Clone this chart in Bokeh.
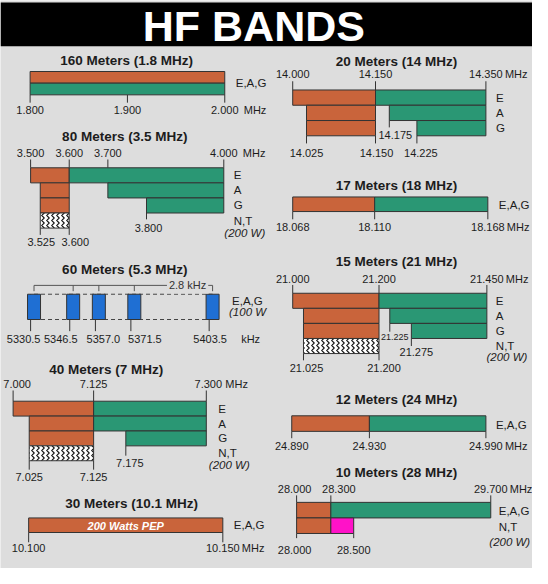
from bokeh.plotting import figure
from bokeh.models import Range1d
from bokeh.embed import file_html
from bokeh.resources import INLINE
from bokeh.core.properties import value

# ------------------------------------------------------------------ data
HEADER = "HF BANDS"

B160_TITLE = "160 Meters (1.8 MHz)"
B160_START = [1.800, 1.800]
B160_END = [2.000, 2.000]
B160_ROW = [0, 1]
B160_KIND = ["cw", "phone"]
B160_TOP = []
B160_BOTTOM = [1.800, 1.900, 2.000]
B160_INNER = []
B160_CLASSES = ["E,A,G"]
B160_NOTE = ""

B80_TITLE = "80 Meters (3.5 MHz)"
B80_START = [3.500, 3.600, 3.525, 3.700, 3.525, 3.800, 3.525]
B80_END = [3.600, 4.000, 3.600, 4.000, 3.600, 4.000, 3.600]
B80_ROW = [0, 0, 1, 1, 2, 2, 3]
B80_KIND = ["cw", "phone", "cw", "phone", "cw", "phone", "nt"]
B80_TOP = [3.500, 3.600, 3.700, 4.000]
B80_BOTTOM = [3.525, 3.600]
B80_INNER = [3.800]
B80_CLASSES = ["E", "A", "G", "N,T"]
B80_NOTE = "(200 W)"

B60_TITLE = "60 Meters (5.3 MHz)"
B60_CHANNELS = [5330.5, 5346.5, 5357.0, 5371.5, 5403.5]
B60_CH_WIDTH = 2.8
B60_WIDTH_LABEL = "2.8 kHz"
B60_CLASSES = ["E,A,G"]
B60_NOTE = "(100 W"

B40_TITLE = "40 Meters (7 MHz)"
B40_START = [7.000, 7.125, 7.025, 7.125, 7.025, 7.175, 7.025]
B40_END = [7.125, 7.300, 7.125, 7.300, 7.125, 7.300, 7.125]
B40_ROW = [0, 0, 1, 1, 2, 2, 3]
B40_KIND = ["cw", "phone", "cw", "phone", "cw", "phone", "nt"]
B40_TOP = [7.000, 7.125, 7.300]
B40_BOTTOM = [7.025, 7.125]
B40_INNER = [7.175]
B40_CLASSES = ["E", "A", "G", "N,T"]
B40_NOTE = "(200 W)"

B30_TITLE = "30 Meters (10.1 MHz)"
B30_START = [10.100]
B30_END = [10.150]
B30_ROW = [0]
B30_KIND = ["cw"]
B30_TOP = []
B30_BOTTOM = [10.100, 10.150]
B30_INNER = []
B30_CLASSES = ["E,A,G"]
B30_NOTE = ""
B30_POWER = "200 Watts PEP"

B20_TITLE = "20 Meters (14 MHz)"
B20_START = [14.000, 14.150, 14.025, 14.175, 14.025, 14.225]
B20_END = [14.150, 14.350, 14.150, 14.350, 14.150, 14.350]
B20_ROW = [0, 0, 1, 1, 2, 2]
B20_KIND = ["cw", "phone", "cw", "phone", "cw", "phone"]
B20_TOP = [14.000, 14.150, 14.350]
B20_BOTTOM = [14.025, 14.150, 14.225]
B20_INNER = [14.175]
B20_CLASSES = ["E", "A", "G"]
B20_NOTE = ""

B17_TITLE = "17 Meters (18 MHz)"
B17_START = [18.068, 18.110]
B17_END = [18.110, 18.168]
B17_ROW = [0, 0]
B17_KIND = ["cw", "phone"]
B17_TOP = []
B17_BOTTOM = [18.068, 18.110, 18.168]
B17_INNER = []
B17_CLASSES = ["E,A,G"]
B17_NOTE = ""

B15_TITLE = "15 Meters (21 MHz)"
B15_START = [21.000, 21.200, 21.025, 21.225, 21.025, 21.275, 21.025]
B15_END = [21.200, 21.450, 21.200, 21.450, 21.200, 21.450, 21.200]
B15_ROW = [0, 0, 1, 1, 2, 2, 3]
B15_KIND = ["cw", "phone", "cw", "phone", "cw", "phone", "nt"]
B15_TOP = [21.000, 21.200, 21.450]
B15_BOTTOM = [21.025, 21.200]
B15_INNER = [21.225, 21.275]
B15_CLASSES = ["E", "A", "G", "N,T"]
B15_NOTE = "(200 W)"

B12_TITLE = "12 Meters (24 MHz)"
B12_START = [24.890, 24.930]
B12_END = [24.930, 24.990]
B12_ROW = [0, 0]
B12_KIND = ["cw", "phone"]
B12_TOP = []
B12_BOTTOM = [24.890, 24.930, 24.990]
B12_INNER = []
B12_CLASSES = ["E,A,G"]
B12_NOTE = ""

B10_TITLE = "10 Meters (28 MHz)"
B10_START = [28.000, 28.300, 28.000, 28.300]
B10_END = [28.300, 29.700, 28.300, 28.500]
B10_ROW = [0, 0, 1, 1]
B10_KIND = ["cw", "phone", "cw", "ntphone"]
B10_TOP = [28.000, 28.300, 29.700]
B10_BOTTOM = [28.000, 28.500]
B10_INNER = []
B10_CLASSES = ["E,A,G", "N,T"]
B10_NOTE = "(200 W)"

# ------------------------------------------------------------------ style / layout
FONT = "Liberation Sans"
BG = "#dddddd"
INK = "#1c1c1c"
EDGE = "#333333"
COLORS = {"cw": "#c9643b", "phone": "#2a9774", "ntphone": "#ff12c8"}
BLUE = "#1f6fd3"
W_REF, H_REF = 548, 584
LAB_FS = "11px"
TITLE_FS = "13.5px"

# px: pixel positions of band low / high edge; top, h: first row top and row height
LAYOUT = {
    "160": dict(px=(30.5, 231), top=73, h=12, title=(130, 62), top_lab=None, top_tick=None,
                bot_lab=3.33, bot_tick=2.67, class_rows=[1.0], class_dx=11, note_row=None, inner=[]),
    "80": dict(px=(31, 230), top=172, h=15.5, title=(128, 140), top_lab=-0.97, top_tick=-0.55,
               bot_lab=4.9, bot_tick=4.45, class_rows=[0.5, 1.5, 2.5, 3.5], class_dx=10, note_row=4.35,
               inner=[(4.0, 2, 3.42, LAB_FS)], bot_dx=[1, 6]),
    "40": dict(px=(13, 212), top=412, h=15.3, title=(109, 379), top_lab=-1.18, top_tick=-0.72,
               bot_lab=5.1, bot_tick=4.6, class_rows=[0.5, 1.5, 2.5, 3.5], class_dx=12, note_row=4.3,
               inner=[(4.18, 4, 3.66, LAB_FS)], top_dx=[4, 0, 2]),
    "30": dict(px=(29, 229), top=532, h=15, title=(135, 517), top_lab=None, top_tick=None,
               bot_lab=2.07, bot_tick=1.67, class_rows=[0.5], class_dx=11, note_row=None, inner=[]),
    "20": dict(px=(301, 500), top=92, h=15.7, title=(408, 63), top_lab=-1.02, top_tick=-0.57,
               bot_lab=4.1, bot_tick=3.5, class_rows=[0.5, 1.5, 2.5], class_dx=10, note_row=None,
               inner=[(2.93, 6, 2.45, LAB_FS)], bot_dx=[0, 1, 4]),
    "17": dict(px=(301, 502), top=202, h=15, title=(408, 190), top_lab=None, top_tick=None,
               bot_lab=2.07, bot_tick=1.53, class_rows=[0.53], class_dx=11, note_row=None, inner=[]),
    "15": dict(px=(301, 501), top=301, h=15.5, title=(408, 268), top_lab=-0.97, top_tick=-0.55,
               bot_lab=4.97, bot_tick=4.45, class_rows=[0.5, 1.5, 2.5, 3.5], class_dx=9, note_row=4.2,
               inner=[(2.9, 5, 2.55, "9px"), (3.9, 5, 3.5, LAB_FS)], bot_dx=[3, 5]),
    "12": dict(px=(300, 500), top=427, h=16, title=(408, 410), top_lab=None, top_tick=None,
               bot_lab=1.94, bot_tick=1.44, class_rows=[0.6], class_dx=10, note_row=None, inner=[]),
    "10": dict(px=(305, 505), top=516, h=16, title=(408, 485), top_lab=-0.875, top_tick=-0.45,
               bot_lab=3.06, bot_tick=2.3, class_rows=[0.56, 1.6], class_dx=8, note_row=2.56, inner=[],
               top_dx=[-2, 8, 0], bot_dx=[-2, 0]),
}
L60 = dict(px=(31, 222), top=302, h=26, title=(128, 277), lab_dx=[-7, -9, 8, 14, 1])

p = figure(width=532, height=568, x_range=Range1d(0, W_REF), y_range=Range1d(H_REF, 0),
           output_backend="svg", toolbar_location=None, min_border=0,
           x_axis_type=None, y_axis_type=None,
           background_fill_color=BG, border_fill_color=BG, outline_line_color=None)
p.grid.visible = False

XR, YR = {}, {}


def txt(x, y, text, size=LAB_FS, align="center", style="normal", color=INK, **kw):
    return p.text(x=x, y=y, text=text, text_font=value(FONT), text_font_size=size,
                  text_align=align, text_baseline="middle", text_font_style=style,
                  text_color=color, **kw)


def set_ranges(key, f0, f1, L):
    px0, px1 = L["px"]
    s = (f1 - f0) / (px1 - px0)
    XR[key] = Range1d(start=f0 - px0 * s, end=f0 + (W_REF - px0) * s)
    YR[key] = Range1d(start=(H_REF - L["top"]) / L["h"], end=-L["top"] / L["h"])
    return dict(x_range_name=key, y_range_name=key)


def draw_band(key, title, start, end, rows, kinds, top, bottom, inner, classes, note):
    L = LAYOUT[key]
    f0, f1 = min(start), max(end)
    kw = set_ranges(key, f0, f1, L)
    txt([L["title"][0]], [L["title"][1]], [title], size=TITLE_FS, style="bold")

    def cover_bottom(f):
        return max(r + 1 for a, b, r in zip(start, end, rows) if a - 1e-9 <= f <= b + 1e-9)

    # tick lines
    if top:
        p.segment(x0=top, x1=top, y0=[L["top_tick"]] * len(top), y1=[0] * len(top),
                  line_color=EDGE, line_width=1, **kw)
    if bottom:
        p.segment(x0=bottom, x1=bottom, y0=[cover_bottom(f) for f in bottom],
                  y1=[L["bot_tick"]] * len(bottom), line_color=EDGE, line_width=1, **kw)
    for f, (lr, dx, te, fs) in zip(inner, L["inner"]):
        p.segment(x0=[f], x1=[f], y0=[cover_bottom(f)], y1=[te], line_color=EDGE, line_width=1, **kw)

    # bars
    solid = [i for i, k in enumerate(kinds) if k != "nt"]
    p.quad(left=[start[i] for i in solid], right=[end[i] for i in solid],
           top=[rows[i] for i in solid], bottom=[rows[i] + 1 for i in solid],
           fill_color=[COLORS[kinds[i]] for i in solid], line_color=EDGE, line_width=1, **kw)
    wave = [i for i, k in enumerate(kinds) if k == "nt"]
    if wave:
        p.quad(left=[start[i] for i in wave], right=[end[i] for i in wave],
               top=[rows[i] for i in wave], bottom=[rows[i] + 1 for i in wave],
               fill_color="white", hatch_pattern="vertical_wave", hatch_color="#111111",
               hatch_scale=5, hatch_weight=1.1, line_color=EDGE, line_width=1, **kw)

    # frequency labels
    if top:
        txt(top, [L["top_lab"]] * len(top), [f"{f:.3f}" for f in top],
            x_offset=L.get("top_dx", [0] * len(top)), **kw)
    if bottom:
        txt(bottom, [L["bot_lab"]] * len(bottom), [f"{f:.3f}" for f in bottom],
            x_offset=L.get("bot_dx", [0] * len(bottom)), **kw)
    for f, (lr, dx, te, fs) in zip(inner, L["inner"]):
        txt([f], [lr], [f"{f:.3f}"], size=fs, x_offset=dx, **kw)
    unit_row = L["top_lab"] if f1 in top else L["bot_lab"]
    txt([f1], [unit_row], ["MHz"], align="left", x_offset=19, **kw)

    # licence classes
    txt([f1] * len(classes), L["class_rows"], classes, size="11.5px", align="left",
        x_offset=L["class_dx"], **kw)
    if note:
        txt([f1], [L["note_row"]], [note], size="11.5px", style="italic",
            x_offset=L["class_dx"] + 11, **kw)
    return kw


# header
p.quad(left=[0], right=[W_REF], top=[2], bottom=[47], fill_color="#000000", line_color=None)
p.text(x=[261], y=[26], text=[HEADER], text_font=value(FONT), text_font_size="43px",
       text_font_style="bold", text_color="white", text_align="center", text_baseline="middle")

draw_band("160", B160_TITLE, B160_START, B160_END, B160_ROW, B160_KIND, B160_TOP, B160_BOTTOM,
          B160_INNER, B160_CLASSES, B160_NOTE)
draw_band("80", B80_TITLE, B80_START, B80_END, B80_ROW, B80_KIND, B80_TOP, B80_BOTTOM,
          B80_INNER, B80_CLASSES, B80_NOTE)
draw_band("40", B40_TITLE, B40_START, B40_END, B40_ROW, B40_KIND, B40_TOP, B40_BOTTOM,
          B40_INNER, B40_CLASSES, B40_NOTE)
kw30 = draw_band("30", B30_TITLE, B30_START, B30_END, B30_ROW, B30_KIND, B30_TOP, B30_BOTTOM,
                 B30_INNER, B30_CLASSES, B30_NOTE)
txt([(B30_START[0] + B30_END[0]) / 2], [0.55], [B30_POWER], style="bold italic", color="white", **kw30)
draw_band("20", B20_TITLE, B20_START, B20_END, B20_ROW, B20_KIND, B20_TOP, B20_BOTTOM,
          B20_INNER, B20_CLASSES, B20_NOTE)
draw_band("17", B17_TITLE, B17_START, B17_END, B17_ROW, B17_KIND, B17_TOP, B17_BOTTOM,
          B17_INNER, B17_CLASSES, B17_NOTE)
draw_band("15", B15_TITLE, B15_START, B15_END, B15_ROW, B15_KIND, B15_TOP, B15_BOTTOM,
          B15_INNER, B15_CLASSES, B15_NOTE)
draw_band("12", B12_TITLE, B12_START, B12_END, B12_ROW, B12_KIND, B12_TOP, B12_BOTTOM,
          B12_INNER, B12_CLASSES, B12_NOTE)
draw_band("10", B10_TITLE, B10_START, B10_END, B10_ROW, B10_KIND, B10_TOP, B10_BOTTOM,
          B10_INNER, B10_CLASSES, B10_NOTE)

# 60 m channels (schematic, 2.8 kHz wide channels)
ch = B60_CHANNELS
f60_hi = max(ch) + B60_CH_WIDTH
kw60 = set_ranges("60", min(ch), f60_hi, L60)
txt([L60["title"][0]], [L60["title"][1]], [B60_TITLE], size=TITLE_FS, style="bold")
centers = [c + B60_CH_WIDTH / 2 for c in ch]
n = len(ch)
p.segment(x0=[centers[0]] * 2, x1=[centers[-1]] * 2, y0=[0, 1], y1=[0, 1],
          line_color="#444444", line_dash="4 3", line_width=1, **kw60)
p.segment(x0=[centers[0]], x1=[centers[-1]], y0=[-0.35], y1=[-0.35],
          line_color="#555555", line_width=1, **kw60)
p.segment(x0=centers, x1=centers, y0=[-0.35] * n, y1=[-0.12] * n,
          line_color="#555555", line_width=1, **kw60)
p.segment(x0=ch, x1=ch, y0=[0] * n, y1=[1.46] * n, line_color=EDGE, line_width=1, **kw60)
p.rect(x=centers, y=[0.5] * n, width=13, width_units="screen", height=1,
       fill_color=BLUE, line_color=EDGE, line_width=1, **kw60)
txt([centers[-1]], [-0.35], [B60_WIDTH_LABEL], x_offset=-25, background_fill_color=BG,
    padding=2, color="#333333", **kw60)
txt(ch, [1.77] * n, [f"{c:.1f}" for c in ch], x_offset=L60["lab_dx"], **kw60)
txt([ch[-1]], [1.77], ["kHz"], align="left", x_offset=32, **kw60)
txt([f60_hi], [0.27], B60_CLASSES, size="11.5px", align="left", x_offset=16, **kw60)
txt([f60_hi], [0.69], [B60_NOTE], size="11.5px", align="left", style="italic", x_offset=13, **kw60)

p.extra_x_ranges = XR
p.extra_y_ranges = YR

open("out.html", "w").write(file_html(p, INLINE, title="HF Bands"))
